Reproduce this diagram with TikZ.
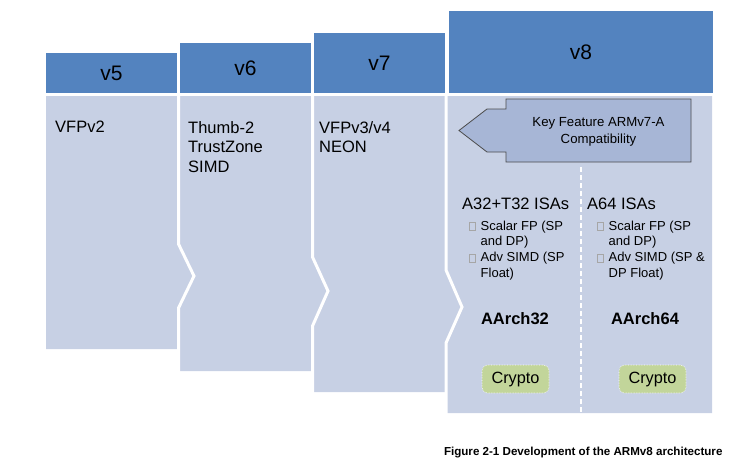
\documentclass[tikz,border=0pt]{standalone}
\usepackage{fontspec}
\setmainfont{Liberation Sans}
\usepackage{tikz}
\usetikzlibrary{arrows,shapes}
\definecolor{headblue}{HTML}{5383BF}
\definecolor{bodyblue}{HTML}{C7D0E4}
\definecolor{keyblue}{HTML}{A7B6D6}
\definecolor{cryptogreen}{HTML}{C2D59A}
\newcommand{\sqbox}{{\color{black!35}\setlength{\fboxsep}{0pt}\setlength{\fboxrule}{0.5pt}\fbox{\rule{0pt}{7.5pt}\hspace{5.5pt}}}\hspace{5pt}}

\begin{document}
\begin{tikzpicture}[x=1pt,y=-1pt,
		head/.style={fill=headblue,minimum width=131pt,inner sep=0pt,font=\fontsize{21}{21}\selectfont},
		body/.style={fill=bodyblue},
		sep/.style={draw=white,line width=3pt},
		txt/.style={anchor=north west,inner sep=0pt,align=left,font=\fontsize{16.5}{19.5}\selectfont},
		small/.style={anchor=north west,inner sep=0pt,align=left,font=\fontsize{13}{15.7}\selectfont},
		crypto/.style={fill=cryptogreen,draw=white,densely dotted,line width=0.6pt,rounded corners=6pt,minimum width=67pt,minimum height=28pt,inner sep=0pt,font=\fontsize{16.3}{16.3}\selectfont}]
		\useasboundingbox (0,0) rectangle (739,461);

		\node[head,minimum height=40pt] (v5) at (111.5,73) {v5};
		\node[head,minimum height=50pt] (v6) at (245.5,68) {v6};
		\node[head,minimum height=60pt] (v7) at (379.5,63) {v7};
		\node[head,minimum width=264pt,minimum height=82pt] (v8) at (581,52) {v8};

		\fill[body] (46,96) -- (178.5,96) -- (178.5,244) -- (194,276) -- (178.5,308) -- (178.5,349) -- (46,349) -- cycle;
		\fill[body] (178.5,96) -- (312.5,96) -- (312.5,257) -- (328,291) -- (312.5,326) -- (312.5,371) -- (178.5,371) -- (178.5,308) -- (194,276) -- (178.5,244) -- cycle;
		\fill[body] (312.5,96) -- (446,96) -- (446,270) -- (462,307) -- (446,343) -- (446,392) -- (312.5,392) -- (312.5,326) -- (328,291) -- (312.5,257) -- cycle;
		\fill[body] (446,96) -- (712,96) -- (712,413) -- (446,413) -- (446,343) -- (462,307) -- (446,270) -- cycle;

		\draw[sep] (178.5,95) -- (178.5,244) -- (194,276) -- (178.5,308) -- (178.5,372);
		\draw[sep] (312.5,95) -- (312.5,257) -- (328,291) -- (312.5,326) -- (312.5,393);
		\draw[sep] (446,95) -- (446,270) -- (462,307) -- (446,343) -- (446,414);

		\node[txt] (f5) at (55,121) {VFPv2};
		\node[txt] (f6) at (188,121) {Thumb-2\\TrustZone\\SIMD};
		\node[txt] (f7) at (319,121) {VFPv3/v4\\NEON};

		\draw[fill=keyblue,draw=black!70,line width=0.8pt] (506,99) -- (691,99) -- (691,162) -- (506,162) -- (506,152) -- (487,152) -- (459,130.5) -- (487,109) -- (506,109) -- cycle;
		\node[align=center,font=\fontsize{13.2}{17}\selectfont] (key) at (598.5,132) {Key Feature ARMv7-A\\Compatibility};

		\draw[white,line width=2pt,dash pattern=on 5pt off 3pt] (581,167) -- (581,413);

		\node[txt] (isa32) at (462,197.5) {A32+T32 ISAs};
		\node[small] (fp32) at (469,220.5) {\sqbox Scalar FP (SP\\\hphantom{\sqbox}and DP)\\\sqbox Adv SIMD (SP\\\hphantom{\sqbox}Float)};
		\node[txt] (isa64) at (587,197.5) {A64 ISAs};
		\node[small] (fp64) at (597,220.5) {\sqbox Scalar FP (SP\\\hphantom{\sqbox}and DP)\\\sqbox Adv SIMD (SP \&\\\hphantom{\sqbox}DP Float)};

		\node[anchor=base,font=\bfseries\fontsize{16.5}{16.5}\selectfont] (a32) at (515,324) {AArch32};
		\node[anchor=base,font=\bfseries\fontsize{16.5}{16.5}\selectfont] (a64) at (645,324) {AArch64};

		\node[crypto] (c32) at (515.5,379) {Crypto};
		\node[crypto] (c64) at (652.5,379) {Crypto};

		\node[anchor=base east,font=\bfseries\fontsize{11.6}{11.6}\selectfont] (cap) at (726,455) {Figure 2-1 Development of the ARMv8 architecture};
	\end{tikzpicture}
\end{document}
